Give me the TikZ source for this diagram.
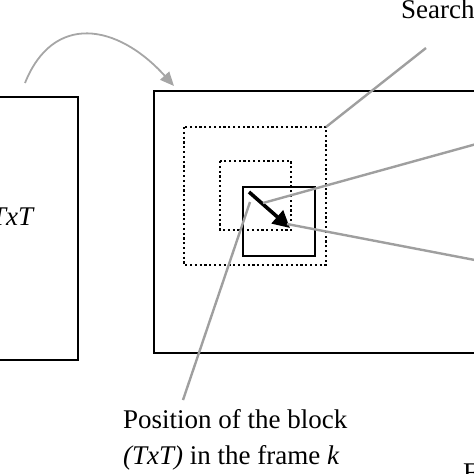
\documentclass[tikz,border=0pt]{standalone}
\usepackage{fontspec}
\setmainfont{Liberation Serif}
\usetikzlibrary{arrows.meta}

\tikzset{
  frame/.style={draw=black, line width=2.6pt},
  dotbox/.style={draw=black, line width=2.6pt, dash pattern=on 2.2pt off 2.6pt},
  leader/.style={draw=gray!75, line width=2.4pt},
  lbl/.style={inner sep=0pt, font=\fontsize{27}{36}\selectfont}
}

\begin{document}
\begin{tikzpicture}[x=1pt,y=1pt,yscale=-1]
\useasboundingbox (0,0) rectangle (474,474);

%Frames
\draw [frame] (-200,97) rectangle (78,360) ;
\draw [frame] (154,91) rectangle (700,353) ;
%Search window and blocks
\draw [dotbox] (184,127) rectangle (326,265) ;
\draw [dotbox] (220,161) rectangle (291,230) ;
\draw [frame] (243,187) rectangle (315,256) ;

\coordinate (win) at (326,127);
\coordinate (blk) at (250,202);
\coordinate (mv) at (263,203);
\coordinate (best) at (287,224);
\coordinate (mvs) at (249,192);
\coordinate (mve) at (290,228);

%Motion vector
\draw [line width=3.6pt, -{Triangle[length=17pt,width=17pt]}] (mvs) -- (mve) ;

%Curved arrow between frames
\coordinate (cs) at (25,83);
\coordinate (ce) at (174,86);
\draw [gray!70, line width=1.8pt, -{Triangle[length=14pt,width=12pt]}] (cs) .. controls (53,13) and (117,23) .. (ce) ;

% Text Node
\node [lbl, anchor=base east] (txt) at (35,225) {\textit{TxT}};
% Text Node
\node [lbl, anchor=base west] (search) at (401,18) {Search};
% Text Node
\node [lbl, anchor=base west, align=left] (pos) at (123,464) {Position of the block\\\textit{(TxT)} in the frame \textit{k}};
% Text Node
\node [lbl, anchor=base west] (fr) at (463,481) {F};

%Leader lines
\coordinate (s1) at (426,48);
\coordinate (s2) at (480,143);
\coordinate (s3) at (480,261);
\coordinate (s4) at (183,400);
\draw [leader] (s1) -- (win) ;
\draw [leader] (s2) -- (mv) ;
\draw [leader] (s3) -- (best) ;
\draw [leader] (s4) -- (blk) ;

\end{tikzpicture}
\end{document}
